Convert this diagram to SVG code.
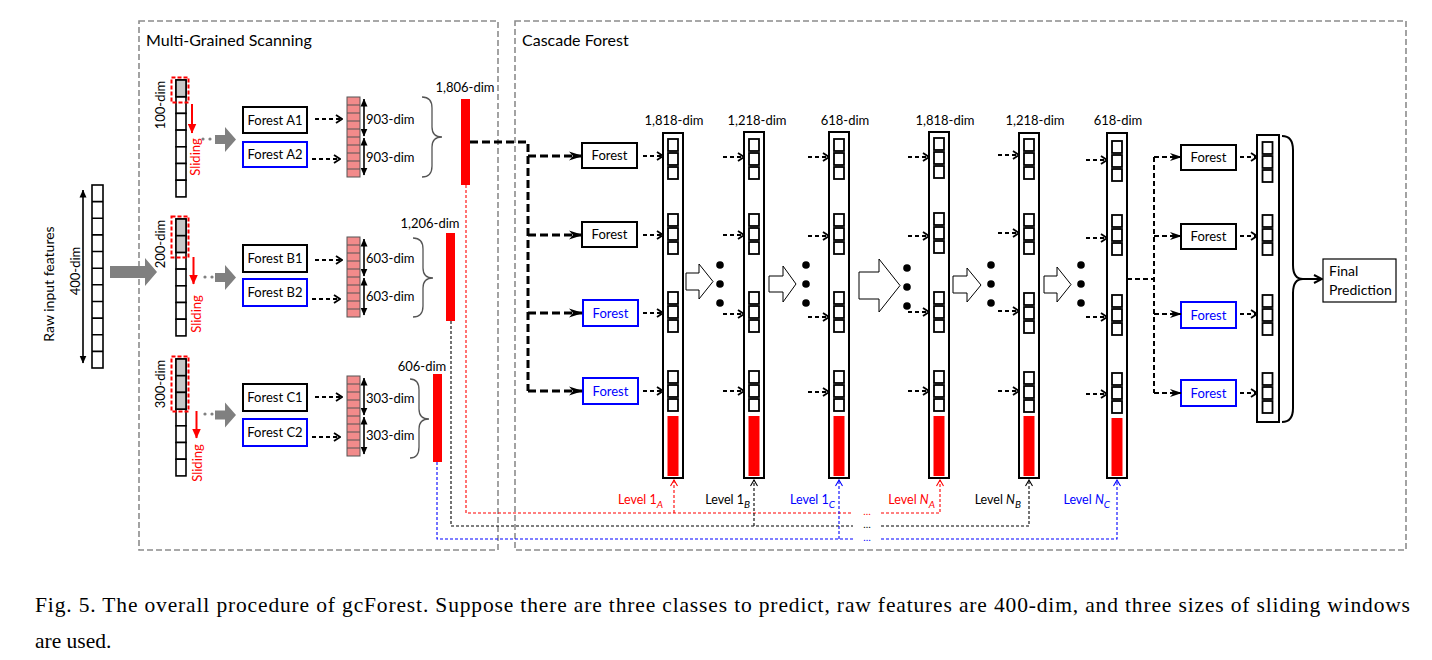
<svg xmlns="http://www.w3.org/2000/svg" xmlns:xlink="http://www.w3.org/1999/xlink" width="1432" height="660" viewBox="0 0 1432 660">
<style>
.frame{fill:none;stroke:#8c8c8c;stroke-width:1.6;stroke-dasharray:6 3}
.t{font-family:Lato,"Liberation Sans",sans-serif;font-size:13px;fill:#000}
.tb{font-family:Lato,"Liberation Sans",sans-serif;font-size:13px;fill:#0000ff}
.tr{font-family:Lato,"Liberation Sans",sans-serif;font-size:13px;fill:#ff0000}
.title{font-family:Lato,"Liberation Sans",sans-serif;font-size:16px;fill:#000}
.cap{font-family:"Liberation Serif",serif;font-size:21.5px;fill:#000}
.box{fill:#fff;stroke:#000;stroke-width:2}
.boxb{fill:#fff;stroke:#0000ff;stroke-width:2}
.cell{fill:#fff;stroke:#000;stroke-width:1.6}
.gcell{fill:#c8c8c8;stroke:#000;stroke-width:1.6}
.pk{fill:#f28b8b;stroke:#555;stroke-width:1}
.sq{fill:#fff;stroke:#000;stroke-width:1.8}
.col{fill:#fff;stroke:#000;stroke-width:2}
.red{fill:#ff0000}
.thick{fill:none;stroke:#000;stroke-width:3;stroke-dasharray:8 4}
.mid{fill:none;stroke:#000;stroke-width:2;stroke-dasharray:5 3}
.thin{fill:none;stroke:#000;stroke-width:1.8;stroke-dasharray:4 3}
.dbl{fill:none;stroke:#000;stroke-width:1.6}
.brace{fill:none;stroke:#555;stroke-width:1.3}
.hol{fill:#fff;stroke:#000;stroke-width:1}
.dr{fill:none;stroke:#ff0000;stroke-width:1.1;stroke-dasharray:3 2}
.dk{fill:none;stroke:#000;stroke-width:1.1;stroke-dasharray:3 2}
.db{fill:none;stroke:#0000ff;stroke-width:1.1;stroke-dasharray:3 2}
.gray{fill:#808080}
.ell{font-size:10px}
</style>
<defs>
<marker id="mk" viewBox="0 0 14 10" refX="13" refY="5" markerWidth="14" markerHeight="10" markerUnits="userSpaceOnUse" orient="auto"><path d="M0,0.5 L14,5 L0,9.5 L4,5 z" fill="#000"/></marker>
<marker id="mk2" viewBox="0 0 12 9" refX="11" refY="4.5" markerWidth="12" markerHeight="9" markerUnits="userSpaceOnUse" orient="auto"><path d="M0,0.5 L12,4.5 L0,8.5 L3.5,4.5 z" fill="#000"/></marker>
<marker id="sm" viewBox="0 0 8 10" refX="7" refY="5" markerWidth="8" markerHeight="10" markerUnits="userSpaceOnUse" orient="auto"><path d="M1,1 L7,5 L1,9" fill="none" stroke="#000" stroke-width="1.8"/></marker>
<marker id="da" viewBox="0 0 8 8" refX="7.5" refY="4" markerWidth="8" markerHeight="8" markerUnits="userSpaceOnUse" orient="auto-start-reverse"><path d="M0,0.5 L8,4 L0,7.5 z" fill="#000"/></marker>
<marker id="ra" viewBox="0 0 10 9" refX="9.5" refY="4.5" markerWidth="10" markerHeight="9" markerUnits="userSpaceOnUse" orient="auto"><path d="M0,0 L10,4.5 L0,9 z" fill="#ff0000"/></marker>
<marker id="fa" viewBox="0 0 10 10" refX="9" refY="5" markerWidth="10" markerHeight="10" markerUnits="userSpaceOnUse" orient="auto"><path d="M1,1 L9,5 L1,9" fill="none" stroke="#000" stroke-width="2"/></marker>
<marker id="ur" viewBox="0 0 8 8" refX="7" refY="4" markerWidth="8" markerHeight="8" markerUnits="userSpaceOnUse" orient="auto"><path d="M1,0.5 L7,4 L1,7.5" fill="none" stroke="#ff0000" stroke-width="1.1"/></marker>
<marker id="uk" viewBox="0 0 8 8" refX="7" refY="4" markerWidth="8" markerHeight="8" markerUnits="userSpaceOnUse" orient="auto"><path d="M1,0.5 L7,4 L1,7.5" fill="none" stroke="#000" stroke-width="1.1"/></marker>
<marker id="ub" viewBox="0 0 8 8" refX="7" refY="4" markerWidth="8" markerHeight="8" markerUnits="userSpaceOnUse" orient="auto"><path d="M1,0.5 L7,4 L1,7.5" fill="none" stroke="#0000ff" stroke-width="1.1"/></marker>
<g id="sq3"><rect class="sq" x="-5" y="0" width="10" height="12"/><rect class="sq" x="-5" y="14" width="10" height="12"/><rect class="sq" x="-5" y="28" width="10" height="12"/></g>
<g id="pink"><rect class="pk" x="0" y="0" width="13" height="80"/><path d="M0,8H13M0,16H13M0,24H13M0,32H13M0,40H13M0,48H13M0,56H13M0,64H13M0,72H13" stroke="#555" stroke-width="1"/></g>
<g id="win"><rect class="cell" x="0" y="0" width="10" height="16.7"/><rect class="cell" x="0" y="16.7" width="10" height="16.7"/><rect class="cell" x="0" y="33.4" width="10" height="16.7"/><rect class="cell" x="0" y="50.1" width="10" height="16.7"/><rect class="cell" x="0" y="66.8" width="10" height="16.7"/><rect class="cell" x="0" y="83.5" width="10" height="16.7"/><rect class="cell" x="0" y="100.2" width="10" height="16.7"/></g>
</defs>
<rect width="1432" height="660" fill="#fff"/>

<g id="frames">
<rect class="frame" x="139" y="21" width="359" height="529"/>
<text class="title" x="146" y="46">Multi-Grained Scanning</text>
<rect class="frame" x="515" y="21" width="891" height="529"/>
<text class="title" x="522" y="46">Cascade Forest</text>
</g>

<g id="raw-input">
<rect class="cell" x="92" y="185" width="11" height="183"/>
<path d="M92,201.6H103M92,218.3H103M92,234.9H103M92,251.5H103M92,268.2H103M92,284.8H103M92,301.5H103M92,318.1H103M92,334.7H103M92,351.4H103" stroke="#000" stroke-width="1.6"/>
<line class="dbl" x1="83" y1="190" x2="83" y2="363" marker-start="url(#da)" marker-end="url(#da)"/>
<text class="t" transform="translate(75,271) rotate(-90)" text-anchor="middle" dominant-baseline="central">400-dim</text>
<text class="t" style="font-size:14px" transform="translate(48,284) rotate(-90)" text-anchor="middle" dominant-baseline="central">Raw input features</text>
<polygon class="gray" points="110,266 145,266 145,258 157,272 145,286 145,278 110,278"/>
</g>

<g id="window-A">
<use href="#win" x="176" y="80"/>
<rect class="gcell" x="176" y="80" width="10" height="16.7"/>
<rect x="171.5" y="77.5" width="17" height="25" fill="none" stroke="#ff0000" stroke-width="2" stroke-dasharray="4 2"/>
<text class="t" transform="translate(160,105) rotate(-90)" text-anchor="middle" dominant-baseline="central">100-dim</text>
<line x1="192" y1="104" x2="192" y2="133" stroke="#ff0000" stroke-width="2" marker-end="url(#ra)"/>
<text class="tr" transform="translate(195,157) rotate(-90)" text-anchor="middle" dominant-baseline="central">Sliding</text>
<circle class="gray" cx="203" cy="139" r="1.6"/><circle class="gray" cx="210" cy="139" r="1.6"/>
<polygon class="gray" points="215,135 225,135 225,127 236,139.5 225,152 225,144 215,144"/>
</g>

<g id="window-B">
<use href="#win" x="176" y="219"/>
<rect class="gcell" x="176" y="219" width="10" height="16.7"/>
<rect class="gcell" x="176" y="235.7" width="10" height="16.7"/>
<rect x="171.5" y="216.5" width="17" height="41" fill="none" stroke="#ff0000" stroke-width="2" stroke-dasharray="4 2"/>
<text class="t" transform="translate(160,244) rotate(-90)" text-anchor="middle" dominant-baseline="central">200-dim</text>
<line x1="193.5" y1="257" x2="193.5" y2="284" stroke="#ff0000" stroke-width="2" marker-end="url(#ra)"/>
<text class="tr" transform="translate(196,314) rotate(-90)" text-anchor="middle" dominant-baseline="central">Sliding</text>
<circle class="gray" cx="205" cy="277" r="1.6"/><circle class="gray" cx="212" cy="277" r="1.6"/>
<polygon class="gray" points="215,273 225,273 225,265 236,277.5 225,290 225,282 215,282"/>
</g>

<g id="window-C">
<use href="#win" x="176" y="359"/>
<rect class="gcell" x="176" y="359" width="10" height="16.7"/>
<rect class="gcell" x="176" y="375.7" width="10" height="16.7"/>
<rect class="gcell" x="176" y="392.4" width="10" height="16.7"/>
<rect x="171.5" y="356.5" width="17" height="55" fill="none" stroke="#ff0000" stroke-width="2" stroke-dasharray="4 2"/>
<text class="t" transform="translate(160,384) rotate(-90)" text-anchor="middle" dominant-baseline="central">300-dim</text>
<line x1="196.5" y1="411" x2="196.5" y2="438" stroke="#ff0000" stroke-width="2" marker-end="url(#ra)"/>
<text class="tr" transform="translate(197,463) rotate(-90)" text-anchor="middle" dominant-baseline="central">Sliding</text>
<circle class="gray" cx="205" cy="414" r="1.6"/><circle class="gray" cx="212" cy="414" r="1.6"/>
<polygon class="gray" points="215,410.5 225,410.5 225,402.5 236,415 225,427.5 225,419.5 215,419.5"/>
</g>

<g id="forest-A1"><rect class="box" x="243" y="107" width="64" height="26"/><text class="t" x="275" y="124.5" text-anchor="middle">Forest A1</text></g>
<g id="forest-A2"><rect class="boxb" x="243" y="142" width="64" height="25"/><text class="t" x="275" y="159" text-anchor="middle">Forest A2</text></g>
<g id="forest-B1"><rect class="box" x="243" y="245" width="64" height="27"/><text class="t" x="275" y="263" text-anchor="middle">Forest B1</text></g>
<g id="forest-B2"><rect class="boxb" x="243" y="279" width="64" height="27"/><text class="t" x="275" y="297" text-anchor="middle">Forest B2</text></g>
<g id="forest-C1"><rect class="box" x="243" y="384" width="64" height="27"/><text class="t" x="275" y="402" text-anchor="middle">Forest C1</text></g>
<g id="forest-C2"><rect class="boxb" x="243" y="419" width="64" height="27"/><text class="t" x="275" y="437" text-anchor="middle">Forest C2</text></g>

<g id="vector-A">
<use href="#pink" x="347" y="97"/>
<line class="dbl" x1="364" y1="99" x2="364" y2="136" marker-start="url(#da)" marker-end="url(#da)"/>
<line class="dbl" x1="364" y1="138" x2="364" y2="175" marker-start="url(#da)" marker-end="url(#da)"/>
<text class="t" x="366" y="124">903-dim</text>
<text class="t" x="366" y="162">903-dim</text>
<path class="brace" d="M422,97 Q432,97 432,108 L432,127 Q432,137 442,137 Q432,137 432,147 L432,166 Q432,177 422,177"/>
<rect class="red" x="461" y="99" width="9" height="86"/>
<text class="t" x="465" y="92" text-anchor="middle">1,806-dim</text>
</g>
<g id="vector-B">
<use href="#pink" x="347" y="237"/>
<line class="dbl" x1="364" y1="239" x2="364" y2="276" marker-start="url(#da)" marker-end="url(#da)"/>
<line class="dbl" x1="364" y1="278" x2="364" y2="315" marker-start="url(#da)" marker-end="url(#da)"/>
<text class="t" x="366" y="263">603-dim</text>
<text class="t" x="366" y="301">603-dim</text>
<path class="brace" d="M413,238 Q423,238 423,249 L423,268 Q423,278 433,278 Q423,278 423,288 L423,306 Q423,317 413,317"/>
<rect class="red" x="446" y="233" width="9" height="88"/>
<text class="t" x="430" y="228" text-anchor="middle">1,206-dim</text>
</g>
<g id="vector-C">
<use href="#pink" x="347" y="376"/>
<line class="dbl" x1="364" y1="378" x2="364" y2="415" marker-start="url(#da)" marker-end="url(#da)"/>
<line class="dbl" x1="364" y1="417" x2="364" y2="454" marker-start="url(#da)" marker-end="url(#da)"/>
<text class="t" x="366" y="403">303-dim</text>
<text class="t" x="366" y="440">303-dim</text>
<path class="brace" d="M410,379 Q419,379 419,390 L419,409 Q419,419 429,419 Q419,419 419,429 L419,447 Q419,458 410,458"/>
<rect class="red" x="433" y="374" width="9" height="88"/>
<text class="t" x="422" y="371" text-anchor="middle">606-dim</text>
</g>

<g id="cascade-forests-1">
<g id="cf1"><rect class="box" x="582" y="143" width="55" height="25"/><text class="t" x="609.5" y="160" text-anchor="middle">Forest</text></g>
<g id="cf2"><rect class="box" x="582" y="222" width="55" height="25"/><text class="t" x="609.5" y="239" text-anchor="middle">Forest</text></g>
<g id="cf3"><rect class="boxb" x="583" y="300" width="55" height="26"/><text class="tb" x="610.5" y="318" text-anchor="middle">Forest</text></g>
<g id="cf4"><rect class="boxb" x="583" y="378" width="55" height="26"/><text class="tb" x="610.5" y="396" text-anchor="middle">Forest</text></g>
</g>

<g id="level-1A"><rect class="col" x="663" y="133" width="20" height="345"/><use href="#sq3" x="673" y="139"/><use href="#sq3" x="673" y="214"/><use href="#sq3" x="673" y="292"/><use href="#sq3" x="673" y="371"/><rect class="red" x="667.5" y="416" width="11" height="60"/><text class="t" x="674" y="125" text-anchor="middle">1,818-dim</text></g>
<g id="level-1B"><rect class="col" x="744" y="132" width="20" height="346"/><use href="#sq3" x="754" y="139"/><use href="#sq3" x="754" y="214"/><use href="#sq3" x="754" y="292"/><use href="#sq3" x="754" y="371"/><rect class="red" x="748.5" y="416" width="11" height="60"/><text class="t" x="757" y="125" text-anchor="middle">1,218-dim</text></g>
<g id="level-1C"><rect class="col" x="829" y="132" width="20" height="346"/><use href="#sq3" x="839" y="139"/><use href="#sq3" x="839" y="214"/><use href="#sq3" x="839" y="292"/><use href="#sq3" x="839" y="371"/><rect class="red" x="833.5" y="416" width="11" height="60"/><text class="t" x="845" y="125" text-anchor="middle">618-dim</text></g>
<g id="level-NA"><rect class="col" x="929" y="132" width="20" height="346"/><use href="#sq3" x="939" y="138"/><use href="#sq3" x="939" y="213"/><use href="#sq3" x="939" y="292"/><use href="#sq3" x="939" y="371"/><rect class="red" x="933.5" y="416" width="11" height="60"/><text class="t" x="945" y="125" text-anchor="middle">1,818-dim</text></g>
<g id="level-NB"><rect class="col" x="1019" y="133" width="20" height="345"/><use href="#sq3" x="1029" y="139"/><use href="#sq3" x="1029" y="214"/><use href="#sq3" x="1029" y="293"/><use href="#sq3" x="1029" y="372"/><rect class="red" x="1023.5" y="416" width="11" height="60"/><text class="t" x="1035" y="125" text-anchor="middle">1,218-dim</text></g>
<g id="level-NC"><rect class="col" x="1107" y="133" width="20" height="345"/><use href="#sq3" x="1117" y="141"/><use href="#sq3" x="1117" y="215"/><use href="#sq3" x="1117" y="295"/><use href="#sq3" x="1117" y="373"/><rect class="red" x="1111.5" y="418" width="11" height="58"/><text class="t" x="1118" y="125" text-anchor="middle">618-dim</text></g>

<g id="level-arrows">
<polygon class="hol" points="686,273 699,273 699,264 713,281.5 699,299 699,290 686,290"/>
<polygon class="hol" points="769,276 783,276 783,266 796,284 783,302 783,292 769,292"/>
<polygon class="hol" points="859,272 879,272 879,259 900,285.5 879,312 879,299 859,299"/>
<polygon class="hol" points="953,276 967,276 967,268 981,285 967,302 967,293 953,293"/>
<polygon class="hol" points="1044,276 1057,276 1057,267 1071,284.5 1057,302 1057,293 1044,293"/>
<circle cx="720" cy="265" r="3.8"/><circle cx="720" cy="284" r="3.8"/><circle cx="720" cy="303" r="3.8"/>
<circle cx="806" cy="265" r="3.8"/><circle cx="806" cy="284" r="3.8"/><circle cx="806" cy="303" r="3.8"/>
<circle cx="907" cy="268" r="3.8"/><circle cx="907" cy="287" r="3.8"/><circle cx="907" cy="306" r="3.8"/>
<circle cx="991" cy="265" r="3.8"/><circle cx="991" cy="284" r="3.8"/><circle cx="991" cy="303" r="3.8"/>
<circle cx="1081" cy="265" r="3.8"/><circle cx="1081" cy="284" r="3.8"/><circle cx="1081" cy="303" r="3.8"/>
</g>

<g id="final-forests">
<g id="ff1"><rect class="box" x="1181" y="145" width="55" height="25"/><text class="t" x="1208.5" y="162" text-anchor="middle">Forest</text></g>
<g id="ff2"><rect class="box" x="1181" y="224" width="55" height="25"/><text class="t" x="1208.5" y="241" text-anchor="middle">Forest</text></g>
<g id="ff3"><rect class="boxb" x="1181" y="302" width="55" height="26"/><text class="tb" x="1208.5" y="320" text-anchor="middle">Forest</text></g>
<g id="ff4"><rect class="boxb" x="1181" y="380" width="55" height="26"/><text class="tb" x="1208.5" y="398" text-anchor="middle">Forest</text></g>
</g>
<g id="final-vector"><rect class="col" x="1257" y="135" width="22" height="287"/><use href="#sq3" x="1267.5" y="142"/><use href="#sq3" x="1267.5" y="215"/><use href="#sq3" x="1267.5" y="295"/><use href="#sq3" x="1267.5" y="373"/>
<path d="M1282,136 Q1293,136 1293,150 L1293,265 Q1293,279 1303,279 Q1293,279 1293,293 L1293,408 Q1293,422 1282,422" fill="none" stroke="#000" stroke-width="2"/></g>
<g id="final-prediction"><rect x="1323" y="259" width="73" height="43" fill="#fff" stroke="#000" stroke-width="1.2"/><text class="t" style="font-size:14px" x="1329" y="276">Final</text><text class="t" style="font-size:14px" x="1329" y="295">Prediction</text></g>

<g id="connectors">
<path class="thick" d="M470,142 H528 V391"/>
<line class="thick" x1="528" y1="156" x2="582" y2="156" marker-end="url(#mk)"/>
<line class="thick" x1="528" y1="235" x2="582" y2="235" marker-end="url(#mk)"/>
<line class="thick" x1="528" y1="313" x2="582" y2="313" marker-end="url(#mk)"/>
<line class="thick" x1="528" y1="391" x2="582" y2="391" marker-end="url(#mk)"/>

<line class="thin" x1="315" y1="119" x2="342" y2="119" marker-end="url(#sm)"/>
<line class="thin" x1="312" y1="159" x2="340" y2="159" marker-end="url(#sm)"/>
<line class="thin" x1="315" y1="260" x2="342" y2="260" marker-end="url(#sm)"/>
<line class="thin" x1="312" y1="299" x2="340" y2="299" marker-end="url(#sm)"/>
<line class="thin" x1="315" y1="397" x2="342" y2="397" marker-end="url(#sm)"/>
<line class="thin" x1="312" y1="437" x2="340" y2="437" marker-end="url(#sm)"/>

<line class="thin" x1="643" y1="156" x2="663" y2="156" marker-end="url(#sm)"/>
<line class="thin" x1="643" y1="235" x2="663" y2="235" marker-end="url(#sm)"/>
<line class="thin" x1="643" y1="313" x2="663" y2="313" marker-end="url(#sm)"/>
<line class="thin" x1="643" y1="391" x2="663" y2="391" marker-end="url(#sm)"/>
<line class="thin" x1="723" y1="157" x2="744" y2="157" marker-end="url(#sm)"/>
<line class="thin" x1="723" y1="235" x2="744" y2="235" marker-end="url(#sm)"/>
<line class="thin" x1="723" y1="314" x2="744" y2="314" marker-end="url(#sm)"/>
<line class="thin" x1="723" y1="391" x2="744" y2="391" marker-end="url(#sm)"/>
<line class="thin" x1="808" y1="157" x2="829" y2="157" marker-end="url(#sm)"/>
<line class="thin" x1="808" y1="236" x2="829" y2="236" marker-end="url(#sm)"/>
<line class="thin" x1="808" y1="317" x2="829" y2="317" marker-end="url(#sm)"/>
<line class="thin" x1="808" y1="392" x2="829" y2="392" marker-end="url(#sm)"/>
<line class="thin" x1="908" y1="157" x2="929" y2="157" marker-end="url(#sm)"/>
<line class="thin" x1="908" y1="236" x2="929" y2="236" marker-end="url(#sm)"/>
<line class="thin" x1="908" y1="312" x2="929" y2="312" marker-end="url(#sm)"/>
<line class="thin" x1="908" y1="391" x2="929" y2="391" marker-end="url(#sm)"/>
<line class="thin" x1="998" y1="155" x2="1019" y2="155" marker-end="url(#sm)"/>
<line class="thin" x1="998" y1="233" x2="1019" y2="233" marker-end="url(#sm)"/>
<line class="thin" x1="998" y1="311" x2="1019" y2="311" marker-end="url(#sm)"/>
<line class="thin" x1="998" y1="391" x2="1019" y2="391" marker-end="url(#sm)"/>
<line class="thin" x1="1086" y1="160" x2="1107" y2="160" marker-end="url(#sm)"/>
<line class="thin" x1="1086" y1="238" x2="1107" y2="238" marker-end="url(#sm)"/>
<line class="thin" x1="1086" y1="317" x2="1107" y2="317" marker-end="url(#sm)"/>
<line class="thin" x1="1086" y1="394" x2="1107" y2="394" marker-end="url(#sm)"/>

<path class="mid" d="M1127,279 H1154 M1154,157 V393"/>
<line class="mid" x1="1154" y1="157" x2="1181" y2="157" marker-end="url(#mk2)"/>
<line class="mid" x1="1154" y1="236" x2="1181" y2="236" marker-end="url(#mk2)"/>
<line class="mid" x1="1154" y1="314" x2="1181" y2="314" marker-end="url(#mk2)"/>
<line class="mid" x1="1154" y1="393" x2="1181" y2="393" marker-end="url(#mk2)"/>
<line class="thin" x1="1240" y1="157" x2="1257" y2="157" marker-end="url(#sm)"/>
<line class="thin" x1="1240" y1="236" x2="1257" y2="236" marker-end="url(#sm)"/>
<line class="thin" x1="1240" y1="314" x2="1257" y2="314" marker-end="url(#sm)"/>
<line class="thin" x1="1240" y1="393" x2="1257" y2="393" marker-end="url(#sm)"/>
<line x1="1303" y1="279" x2="1322" y2="279" stroke="#000" stroke-width="2" marker-end="url(#fa)"/>

<path class="dr" d="M466,185 V513 H853"/>
<line class="dr" x1="674" y1="513" x2="674" y2="480" marker-end="url(#ur)"/>
<path class="dr" d="M881,513 H940 V480" marker-end="url(#ur)"/>
<path class="dk" d="M451,321 V526 H853"/>
<line class="dk" x1="754" y1="526" x2="754" y2="480" marker-end="url(#uk)"/>
<path class="dk" d="M881,526 H1029 V480" marker-end="url(#uk)"/>
<path class="db" d="M437,462 V539 H853"/>
<line class="db" x1="839" y1="539" x2="839" y2="480" marker-end="url(#ub)"/>
<path class="db" d="M881,539 H1117 V480" marker-end="url(#ub)"/>
<text class="tr ell" x="867" y="515" text-anchor="middle">…</text>
<text class="t ell" x="867" y="528" text-anchor="middle">…</text>
<text class="tb ell" x="867" y="541" text-anchor="middle">…</text>
</g>

<g id="level-labels">
<text class="tr" style="font-size:12.5px" x="663" y="504" text-anchor="end">Level 1<tspan font-style="italic" font-size="10" dy="4">A</tspan></text>
<text class="t" style="font-size:12.5px" x="750" y="504" text-anchor="end">Level 1<tspan font-style="italic" font-size="10" dy="4">B</tspan></text>
<text class="tb" style="font-size:12.5px" x="835" y="504" text-anchor="end">Level 1<tspan font-style="italic" font-size="10" dy="4">C</tspan></text>
<text class="tr" style="font-size:12.5px" x="935" y="504" text-anchor="end">Level <tspan font-style="italic">N</tspan><tspan font-style="italic" font-size="10" dy="4">A</tspan></text>
<text class="t" style="font-size:12.5px" x="1021" y="504" text-anchor="end">Level <tspan font-style="italic">N</tspan><tspan font-style="italic" font-size="10" dy="4">B</tspan></text>
<text class="tb" style="font-size:12.5px" x="1110" y="504" text-anchor="end">Level <tspan font-style="italic">N</tspan><tspan font-style="italic" font-size="10" dy="4">C</tspan></text>
</g>

<g id="caption">
<text class="cap" x="35" y="612" textLength="1375">Fig. 5. The overall procedure of gcForest. Suppose there are three classes to predict, raw features are 400-dim, and three sizes of sliding windows</text>
<text class="cap" x="35" y="648">are used.</text>
</g>
</svg>
